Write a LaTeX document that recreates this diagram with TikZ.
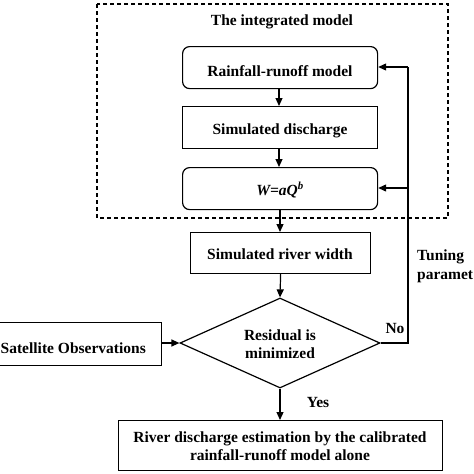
\documentclass[tikz,border=0pt]{standalone}
\usepackage{fontspec}
\setmainfont{Liberation Serif}
\usetikzlibrary{arrows.meta,shapes.geometric}
\begin{document}
\begin{tikzpicture}[x=1pt,y=-1pt,
  every node/.style={font=\bfseries\fontsize{15.5}{18}\selectfont, inner sep=0pt},
  box/.style={draw, line width=1.2pt, minimum width=195pt, minimum height=42pt, anchor=north west},
  rbox/.style={box, rounded corners=7pt},
  arr/.style={line width=1.2pt, -{Triangle[length=8pt,width=7pt]}},
  ln/.style={line width=1.2pt}]
\useasboundingbox (0,0) rectangle (474,474);
\clip (0,0) rectangle (474,474);
\fill[white] (0,0) rectangle (474,474);
% integrated model frame
\draw[line width=1.3pt, dash pattern=on 4pt off 3pt] (97,4) rectangle (448,218);
\node (title) at (282,22) {The integrated model};
\node[rbox] (rr) at (182,46) {};
\node at (280,71) {Rainfall-runoff model};
\node[box] (sd) at (182,106) {};
\node at (280,131) {Simulated discharge};
\node[rbox] (w) at (182,167) {};
\node at (280,190) {\textit{W=aQ}\textsuperscript{\textit{b}}};
\node[draw, line width=1.2pt, minimum width=180pt, minimum height=41pt, anchor=north west] (srw) at (190,232) {};
\node at (280,254) {Simulated river width};
\node[draw, diamond, line width=1.2pt, minimum width=200pt, minimum height=90pt, inner sep=0pt] (dia) at (280,343) {};
\node[align=center] at (280,344) {Residual is\\minimized};
\node[draw, line width=1.2pt, minimum width=172pt, minimum height=43pt, anchor=north east] (sat) at (162,322) {};
\node[anchor=east] at (146,348) {Satellite Observations};
\node[draw, line width=1.2pt, minimum width=324pt, minimum height=50pt, anchor=north west] (fin) at (118,420) {};
\node[align=center, font=\bfseries\fontsize{15.5}{18.5}\selectfont] at (280,446) {River discharge estimation by the calibrated\\rainfall-runoff model alone};
% connectors
\draw[arr] (rr.south -| 279,0) -- (sd.north -| 279,0);
\draw[arr] (sd.south -| 279,0) -- (w.north -| 279,0);
\draw[arr] (w.south -| 280,0) -- (srw.north -| 280,0);
\draw[arr] (srw.south) -- (dia.north);
\draw[arr] (sat.east |- dia.west) -- (dia.west);
\draw[arr] (dia.south) -- (fin.north -| dia.south);
\coordinate (fb) at (408,343);
\coordinate (fbtop) at (408,67);
\coordinate (fbmid) at (408,188);
\draw[ln] (dia.east) -- (fb) -- (fbtop);
\draw[arr] (fbtop) -- (rr.east |- fbtop);
\draw[arr] (fbmid) -- (w.east |- fbmid);
\node at (395,328) {No};
\node at (318,402) {Yes};
\node[anchor=west, align=left, font=\bfseries\fontsize{15.5}{19}\selectfont] at (417,266) {Tuning\\paramet};
\end{tikzpicture}
\end{document}
